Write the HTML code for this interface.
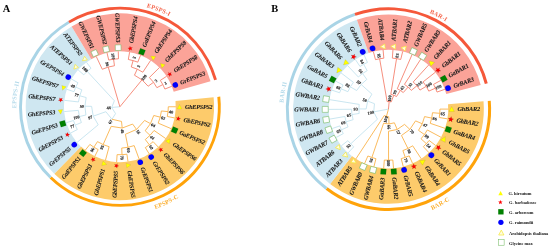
<!DOCTYPE html>
<html lang="en"><head><meta charset="utf-8"><title>Phylogenetic trees of EPSPS and BAR</title>
<style>html,body{margin:0;padding:0;background:#fff}body{width:550px;height:249px;overflow:hidden}svg{display:block;filter:blur(0.3px)}</style></head><body>
<svg width="550" height="249" viewBox="0 0 550 249">
<rect width="550" height="249" fill="#FFFFFF"/>
<g font-family="'Liberation Serif', serif" font-weight="bold" font-size="10.4" fill="#000">
<text x="2.8" y="12">A</text><text x="271.2" y="12">B</text></g>
<g transform="translate(119.9 106.75) scale(1 0.9915)">
<path d="M55.61 -5.68L93.71 -9.57A94.2 94.2 0 0 1 -65.63 67.57L-38.95 40.1A55.9 55.9 0 0 0 55.61 -5.68Z" fill="#FDCB6B"/>
<path d="M98.89 -10.1A99.4 99.4 0 0 1 -69.26 71.3" fill="none" stroke="#FFA30A" stroke-width="2.9"/>
<path d="M-38.95 40.1L-65.63 67.57A94.2 94.2 0 0 1 -48.28 -80.89L-28.65 -48A55.9 55.9 0 0 0 -38.95 40.1Z" fill="#CFE7F1"/>
<path d="M-69.26 71.3A99.4 99.4 0 0 1 -50.95 -85.35" fill="none" stroke="#A9D4E6" stroke-width="2.9"/>
<path d="M-28.65 -48L-48.28 -80.89A94.2 94.2 0 0 1 90.63 -25.7L53.78 -15.25A55.9 55.9 0 0 0 -28.65 -48Z" fill="#FBA398"/>
<path d="M-50.95 -85.35A99.4 99.4 0 0 1 95.63 -27.12" fill="none" stroke="#F5583A" stroke-width="2.9"/>
<path d="M-8.17 0.74L-0 0L0 0M-7.93 12.62L-4.36 6.94L-8.17 0.74M-26.66 9.49L-14.04 4.99L-7.93 12.62M-42.82 35.93L-21.68 18.19L-26.66 9.49M-35 -0.51L-28.3 -0.41L-26.66 9.49M-40.5 9.91L-34 8.32L-35 -0.51M-44.72 18.52L-38.53 15.96L-40.5 9.91M-49.2 26.53L-42.6 22.97L-44.72 18.52M-53.55 16.03L-46.37 13.88L-44.72 18.52M-55.69 4.87L-41.54 3.63L-40.5 9.91M-40.2 -11.09L-33.74 -9.3L-35 -0.51M-55.52 -6.49L-41.42 -4.84L-40.2 -11.09M-44.16 -19.81L-38.05 -17.07L-40.2 -11.09M-53.06 -17.58L-45.94 -15.22L-44.16 -19.81M-48.41 -27.95L-41.92 -24.2L-44.16 -19.81M-32.7 -35.68L-5.54 -6.05L-8.17 0.74M-41.76 -37.16L-36.16 -32.18L-32.7 -35.68M-33.38 -44.84L-28.9 -38.82L-32.7 -35.68" fill="none" stroke="#C0E1ED" stroke-width="0.85" stroke-linejoin="miter"/>
<path d="M2.31 21.48L1.6 14.81L-7.93 12.62M16.65 22.88L12.71 17.47L2.31 21.48M30.56 17.06L24.71 13.79L16.65 22.88M40.36 10.5L33.87 8.81L30.56 17.06M48.15 4.92L41.48 4.24L40.36 10.5M55.9 0L48.4 0L48.15 4.92M54.75 11.3L47.4 9.79L48.15 4.92M51.33 22.14L38.29 16.52L40.36 10.5M30.12 28.84L25.28 24.2L30.56 17.06M45.79 32.06L34.16 23.92L30.12 28.84M29.46 38.4L25.39 33.08L30.12 28.84M38.36 40.66L33.21 35.2L29.46 38.4M29.35 47.58L25.41 41.19L29.46 38.4M8.14 40.9L5.52 27.76L16.65 22.88M19.12 52.53L14.26 39.19L8.14 40.9M2.11 48.35L1.82 41.66L8.14 40.9M8.1 55.31L7.01 47.89L2.11 48.35M-3.25 55.81L-2.81 48.32L2.11 48.35M-16.79 38.17L-8.7 19.77L2.31 21.48M-14.47 54L-10.79 40.28L-16.79 38.17M-26.01 40.82L-22.41 35.17L-16.79 38.17M-25.09 49.95L-21.72 43.25L-26.01 40.82M-34.67 43.85L-30.02 37.97L-26.01 40.82" fill="none" stroke="#F9AE40" stroke-width="0.85" stroke-linejoin="miter"/>
<path d="M-11.67 -40.03L-0 -0L0 0M-23.62 -50.66L-17.62 -37.79L-11.67 -40.03M-6.32 -47.99L-5.44 -41.34L-11.67 -40.03M-12.89 -54.39L-11.16 -47.1L-6.32 -47.99M-1.63 -55.88L-1.41 -48.38L-6.32 -47.99M22.11 -27.14L0 -0L0 0M17.35 -37.92L14.56 -31.83L22.11 -27.14M13.21 -46.56L11.38 -40.12L17.35 -37.92M9.71 -55.05L8.4 -47.66L13.21 -46.56M20.64 -51.95L17.87 -44.98L13.21 -46.56M30.72 -46.7L22.91 -34.84L17.35 -37.92M33.63 -24.66L28.23 -20.7L22.11 -27.14M39.53 -39.53L29.49 -29.49L33.63 -24.66M42.93 -22.35L36.99 -19.25L33.63 -24.66M46.7 -30.72L40.44 -26.6L42.93 -22.35M51.95 -20.64L44.98 -17.87L42.93 -22.35" fill="none" stroke="#F47A66" stroke-width="0.85" stroke-linejoin="miter"/>
<g font-family="'Liberation Serif', serif" font-weight="bold" font-size="4.3" fill="#222" stroke="#222" stroke-width="0.12" text-anchor="middle">
<text transform="translate(-11.25 1.02) rotate(354.82)" y="1.6">44</text>
<text transform="translate(-9.57 15.24) rotate(302.14)" y="1.6">67</text>
<text transform="translate(2.64 24.56) rotate(83.85)" y="1.6">46</text>
<text transform="translate(18.47 25.39) rotate(53.96)" y="1.6">56</text>
<text transform="translate(33.27 18.57) rotate(29.17)" y="1.6">64</text>
<text transform="translate(43.36 11.28) rotate(14.58)" y="1.6">62</text>
<text transform="translate(51.23 5.23) rotate(5.83)" y="1.6">40</text>
<text transform="translate(32.36 30.98) rotate(43.75)" y="1.6">44</text>
<text transform="translate(31.35 40.86) rotate(52.5)" y="1.6">60</text>
<text transform="translate(8.74 43.94) rotate(78.75)" y="1.6">60</text>
<text transform="translate(2.25 51.45) rotate(87.5)" y="1.6">78</text>
<text transform="translate(-18.04 41.01) rotate(293.75)" y="1.6">95</text>
<text transform="translate(-27.67 43.43) rotate(302.5)" y="1.6">96</text>
<text transform="translate(-29.58 10.52) rotate(340.42)" y="1.6">97</text>
<text transform="translate(-38.1 -0.55) rotate(0.83)" y="1.6">50</text>
<text transform="translate(-43.52 10.65) rotate(346.25)" y="1.6">100</text>
<text transform="translate(-47.58 19.71) rotate(337.5)" y="1.6">77</text>
<text transform="translate(-43.19 -11.91) rotate(15.42)" y="1.6">77</text>
<text transform="translate(-46.99 -21.08) rotate(24.17)" y="1.6">49</text>
<text transform="translate(-34.79 -37.97) rotate(47.5)" y="1.6">100</text>
<text transform="translate(-12.54 -43.01) rotate(73.75)" y="1.6">96</text>
<text transform="translate(-6.72 -51.06) rotate(82.5)" y="1.6">100</text>
<text transform="translate(24.06 -29.54) rotate(309.17)" y="1.6">100</text>
<text transform="translate(18.64 -40.74) rotate(294.58)" y="1.6">3</text>
<text transform="translate(14.05 -49.55) rotate(285.83)" y="1.6">2</text>
<text transform="translate(36.13 -26.49) rotate(323.75)" y="1.6">3</text>
<text transform="translate(45.68 -23.78) rotate(332.5)" y="1.6">3</text>
</g>
<g font-family="'Liberation Serif', serif" font-weight="bold" font-style="italic" font-size="6.1" letter-spacing="-0.21" fill="#1a1a1a" stroke="#1a1a1a" stroke-width="0.08">
<path transform="translate(59.6 0) rotate(0) scale(0.9)" d="M0 -2.6L2.6 2.4L-2.6 2.4Z" fill="#FFFF00"/>
<text transform="rotate(0)" x="65.1" y="1.89">GhEPSPS2</text>
<polygon transform="translate(58.37 12.05) rotate(11.67) scale(0.9)" points="0,-2.8 0.71,-0.97 2.66,-0.87 1.14,0.37 1.65,2.27 0,1.2 -1.65,2.27 -1.14,0.37 -2.66,-0.87 -0.71,-0.97" fill="#FF0000"/>
<text transform="rotate(11.67)" x="65.1" y="1.89">GbEPSPS2</text>
<rect transform="translate(54.73 23.61) rotate(23.33) scale(0.9)" x="-3.1" y="-3.1" width="6.2" height="6.2" fill="#008000"/>
<text transform="rotate(23.33)" x="65.1" y="1.89">GaEPSPS2</text>
<path transform="translate(48.82 34.19) rotate(35) scale(0.9)" d="M0 -2.6L2.6 2.4L-2.6 2.4Z" fill="#FFFF00"/>
<text transform="rotate(35)" x="65.1" y="1.89">GhEPSPS6</text>
<polygon transform="translate(40.9 43.35) rotate(46.67) scale(0.9)" points="0,-2.8 0.71,-0.97 2.66,-0.87 1.14,0.37 1.65,2.27 0,1.2 -1.65,2.27 -1.14,0.37 -2.66,-0.87 -0.71,-0.97" fill="#FF0000"/>
<text transform="rotate(46.67)" x="65.1" y="1.89">GbEPSPS6</text>
<circle transform="translate(31.29 50.73) rotate(58.33) scale(0.9)" r="3.05" fill="#0000FF"/>
<text transform="rotate(58.33)" x="65.1" y="1.89">GrEPSPS2</text>
<circle transform="translate(20.38 56.01) rotate(70) scale(0.9)" r="3.05" fill="#0000FF"/>
<text transform="rotate(70)" x="65.1" y="1.89">GrEPSPS1</text>
<path transform="translate(8.64 58.97) rotate(81.67) scale(0.9)" d="M0 -2.6L2.6 2.4L-2.6 2.4Z" fill="#FFFF00"/>
<text transform="rotate(81.67)" x="65.1" y="1.89">GhEPSPS5</text>
<polygon transform="translate(-3.47 59.5) rotate(93.33) scale(0.9)" points="0,-2.8 0.71,-0.97 2.66,-0.87 1.14,0.37 1.65,2.27 0,1.2 -1.65,2.27 -1.14,0.37 -2.66,-0.87 -0.71,-0.97" fill="#FF0000"/>
<text transform="rotate(273.33)" x="-65.1" y="1.89" text-anchor="end">GbEPSPS5</text>
<path transform="translate(-15.43 57.57) rotate(105) scale(0.9)" d="M0 -2.6L2.6 2.4L-2.6 2.4Z" fill="#FFFF00"/>
<text transform="rotate(285)" x="-65.1" y="1.89" text-anchor="end">GhEPSPS1</text>
<polygon transform="translate(-26.75 53.26) rotate(116.67) scale(0.9)" points="0,-2.8 0.71,-0.97 2.66,-0.87 1.14,0.37 1.65,2.27 0,1.2 -1.65,2.27 -1.14,0.37 -2.66,-0.87 -0.71,-0.97" fill="#FF0000"/>
<text transform="rotate(296.67)" x="-65.1" y="1.89" text-anchor="end">GbEPSPS1</text>
<rect transform="translate(-36.97 46.75) rotate(128.33) scale(0.9)" x="-3.1" y="-3.1" width="6.2" height="6.2" fill="#008000"/>
<text transform="rotate(308.33)" x="-65.1" y="1.89" text-anchor="end">GaEPSPS1</text>
<circle transform="translate(-45.66 38.31) rotate(140) scale(0.9)" r="3.05" fill="#0000FF"/>
<text transform="rotate(320)" x="-65.1" y="1.89" text-anchor="end">GrEPSPS5</text>
<polygon transform="translate(-52.46 28.29) rotate(151.67) scale(0.9)" points="0,-2.8 0.71,-0.97 2.66,-0.87 1.14,0.37 1.65,2.27 0,1.2 -1.65,2.27 -1.14,0.37 -2.66,-0.87 -0.71,-0.97" fill="#FF0000"/>
<text transform="rotate(331.67)" x="-65.1" y="1.89" text-anchor="end">GbEPSPS3</text>
<rect transform="translate(-57.1 17.09) rotate(163.33) scale(0.9)" x="-3.1" y="-3.1" width="6.2" height="6.2" fill="#008000"/>
<text transform="rotate(343.33)" x="-65.1" y="1.89" text-anchor="end">GaEPSPS3</text>
<path transform="translate(-59.37 5.19) rotate(175) scale(0.9)" d="M0 -2.6L2.6 2.4L-2.6 2.4Z" fill="#FFFF00"/>
<text transform="rotate(355)" x="-65.1" y="1.89" text-anchor="end">GhEPSPS3</text>
<polygon transform="translate(-59.2 -6.92) rotate(186.67) scale(0.9)" points="0,-2.8 0.71,-0.97 2.66,-0.87 1.14,0.37 1.65,2.27 0,1.2 -1.65,2.27 -1.14,0.37 -2.66,-0.87 -0.71,-0.97" fill="#FF0000"/>
<text transform="rotate(6.67)" x="-65.1" y="1.89" text-anchor="end">GbEPSPS7</text>
<path transform="translate(-56.57 -18.75) rotate(198.33) scale(0.9)" d="M0 -2.6L2.6 2.4L-2.6 2.4Z" fill="#FFFF00"/>
<text transform="rotate(18.33)" x="-65.1" y="1.89" text-anchor="end">GhEPSPS7</text>
<circle transform="translate(-51.62 -29.8) rotate(210) scale(0.9)" r="3.05" fill="#0000FF"/>
<text transform="rotate(30)" x="-65.1" y="1.89" text-anchor="end">GrEPSPS4</text>
<path transform="translate(-44.52 -39.62) rotate(221.67) scale(0.92)" d="M0 -2.5L2.5 2.2L-2.5 2.2Z" fill="#FFFCE0" stroke="#F6E83C" stroke-width="0.7" stroke-linejoin="miter"/>
<text transform="rotate(41.67)" x="-65.1" y="1.89" text-anchor="end">ATEPSPS1</text>
<path transform="translate(-35.59 -47.81) rotate(233.33) scale(0.92)" d="M0 -2.5L2.5 2.2L-2.5 2.2Z" fill="#FFFCE0" stroke="#F6E83C" stroke-width="0.7" stroke-linejoin="miter"/>
<text transform="rotate(53.33)" x="-65.1" y="1.89" text-anchor="end">ATEPSPS2</text>
<rect transform="translate(-25.19 -54.02) rotate(245) scale(0.9)" x="-3.15" y="-3.15" width="6.3" height="6.3" fill="#FFFFFF" stroke="#74BA62" stroke-width="0.6"/>
<text transform="rotate(65)" x="-65.1" y="1.89" text-anchor="end">GWEPSPS1</text>
<rect transform="translate(-13.74 -57.99) rotate(256.67) scale(0.9)" x="-3.15" y="-3.15" width="6.3" height="6.3" fill="#FFFFFF" stroke="#74BA62" stroke-width="0.6"/>
<text transform="rotate(76.67)" x="-65.1" y="1.89" text-anchor="end">GWEPSPS2</text>
<rect transform="translate(-1.73 -59.57) rotate(268.33) scale(0.9)" x="-3.15" y="-3.15" width="6.3" height="6.3" fill="#FFFFFF" stroke="#74BA62" stroke-width="0.6"/>
<text transform="rotate(88.33)" x="-65.1" y="1.89" text-anchor="end">GWEPSPS3</text>
<polygon transform="translate(10.35 -58.69) rotate(280) scale(0.9)" points="0,-2.8 0.71,-0.97 2.66,-0.87 1.14,0.37 1.65,2.27 0,1.2 -1.65,2.27 -1.14,0.37 -2.66,-0.87 -0.71,-0.97" fill="#FF0000"/>
<text transform="rotate(280)" x="65.1" y="1.89">GbEPSPS4</text>
<rect transform="translate(22 -55.39) rotate(291.67) scale(0.9)" x="-3.1" y="-3.1" width="6.2" height="6.2" fill="#008000"/>
<text transform="rotate(291.67)" x="65.1" y="1.89">GaEPSPS4</text>
<path transform="translate(32.75 -49.8) rotate(303.33) scale(0.9)" d="M0 -2.6L2.6 2.4L-2.6 2.4Z" fill="#FFFF00"/>
<text transform="rotate(303.33)" x="65.1" y="1.89">GhEPSPS4</text>
<path transform="translate(42.14 -42.14) rotate(315) scale(0.9)" d="M0 -2.6L2.6 2.4L-2.6 2.4Z" fill="#FFFF00"/>
<text transform="rotate(315)" x="65.1" y="1.89">GhEPSPS8</text>
<polygon transform="translate(49.8 -32.75) rotate(326.67) scale(0.9)" points="0,-2.8 0.71,-0.97 2.66,-0.87 1.14,0.37 1.65,2.27 0,1.2 -1.65,2.27 -1.14,0.37 -2.66,-0.87 -0.71,-0.97" fill="#FF0000"/>
<text transform="rotate(326.67)" x="65.1" y="1.89">GbEPSPS8</text>
<circle transform="translate(55.39 -22) rotate(338.33) scale(0.9)" r="3.05" fill="#0000FF"/>
<text transform="rotate(338.33)" x="65.1" y="1.89">GrEPSPS3</text>
</g>
<g font-family="'Liberation Serif', serif" font-weight="bold" font-size="6.2" letter-spacing="0.2" text-anchor="middle">
<path id="p119_64" d="M-26.69 105.73A109.05 109.05 0 0 0 99.49 44.64" fill="none"/>
<text fill="#FBAE2E"><textPath href="#p119_64" startOffset="50%">EPSPS-C</textPath></text>
<path id="p119_186" d="M-86.69 57.01A103.75 103.75 0 0 1 -71.2 -75.47" fill="none"/>
<text fill="#B4DAEA"><textPath href="#p119_186" startOffset="50%">EPSPS-II</textPath></text>
<path id="p119_291" d="M-32.64 -98.49A103.75 103.75 0 0 1 91.32 -49.24" fill="none"/>
<text fill="#F5644A"><textPath href="#p119_291" startOffset="50%">EPSPS-I</textPath></text>
</g>
</g>
<g transform="translate(388.45 109.1) scale(1 0.9926)">
<path d="M59.6 -4.93L95.08 -7.87A95.4 95.4 0 0 1 -58.34 75.48L-36.57 47.31A59.8 59.8 0 0 0 59.6 -4.93Z" fill="#FDCB6B"/>
<path d="M100.81 -8.34A101.15 101.15 0 0 1 -61.86 80.03" fill="none" stroke="#FFA30A" stroke-width="3"/>
<path d="M-36.57 47.31L-58.34 75.48A95.4 95.4 0 0 1 -31.57 -90.03L-19.79 -56.43A59.8 59.8 0 0 0 -36.57 47.31Z" fill="#CFE7F1"/>
<path d="M-61.86 80.03A101.15 101.15 0 0 1 -33.47 -95.45" fill="none" stroke="#A9D4E6" stroke-width="3"/>
<path d="M-19.79 -56.43L-31.57 -90.03A95.4 95.4 0 0 1 92.26 -24.26L57.83 -15.2A59.8 59.8 0 0 0 -19.79 -56.43Z" fill="#FBA398"/>
<path d="M-33.47 -95.45A101.15 101.15 0 0 1 97.83 -25.72" fill="none" stroke="#F5583A" stroke-width="3"/>
<path d="M-2.04 7.42L-0 0L0 0M0.58 14.99L0.3 7.69L-2.04 7.42M8.78 20.5L5.91 13.79L0.58 14.99M21.38 20.47L16.11 15.42L8.78 20.5M33.8 14.8L27.11 11.87L21.38 20.47M43.26 9.06L36.12 7.56L33.8 14.8M51.32 4.25L44.05 3.64L43.26 9.06M59.8 0L51.5 0L51.32 4.25M58.99 9.83L50.8 8.46L51.32 4.25M56.57 19.39L41.81 14.33L43.26 9.06M36 25.65L30.05 21.41L33.8 14.8M52.61 28.42L38.89 21.01L36 25.65M37.93 34.84L32.55 29.9L36 25.65M47.23 36.68L40.67 31.59L37.93 34.84M40.56 43.95L34.93 37.85L37.93 34.84M19.48 39.68L13.04 26.57L21.38 20.47M32.78 50.01L24.23 36.97L19.48 39.68M16.81 48.68L14.43 41.78L19.48 39.68M24.12 54.72L20.77 47.13L16.81 48.68M14.8 57.94L12.74 49.9L16.81 48.68M0.12 51.5L0.05 22.3L8.78 20.5M5.07 59.58L4.37 51.31L0.12 51.5M-4.79 59.61L-4.13 51.33L0.12 51.5M-16.58 48.76L-4.83 14.2L0.58 14.99M-14.52 58.01L-12.51 49.96L-16.58 48.76M-23.86 54.83L-20.55 47.22L-16.58 48.76M-32.55 50.17L-4.19 6.46L-2.04 7.42" fill="none" stroke="#F9AE40" stroke-width="0.85" stroke-linejoin="miter"/>
<path d="M-14.74 2.8L-0 0L0 0M-37.76 35.02L-11 10.2L-14.74 2.8M-40.35 44.14L-34.75 38.01L-37.76 35.02M-47.05 36.91L-40.52 31.78L-37.76 35.02M-20.78 -8.1L-13.97 -5.45L-14.74 2.8M-29.6 -0.17L-22.3 -0.12L-20.78 -8.1M-36.49 5.48L-29.27 4.4L-29.6 -0.17M-42.31 12.79L-35.32 10.68L-36.49 5.48M-47.08 20.88L-40.4 17.92L-42.31 12.79M-52.48 28.67L-45.2 24.69L-47.08 20.88M-56.48 19.66L-48.64 16.93L-47.08 20.88M-58.94 10.11L-43.56 7.47L-42.31 12.79M-59.8 0.28L-36.9 0.17L-36.49 5.48M-59.03 -9.55L-29.22 -4.73L-29.6 -0.17M-27.29 -24.83L-16.49 -15.01L-20.78 -8.1M-38.09 -22.42L-31.8 -18.71L-27.29 -24.83M-47.27 -20.44L-40.57 -17.54L-38.09 -22.42M-56.66 -19.12L-48.8 -16.47L-47.27 -20.44M-52.75 -28.17L-45.43 -24.26L-47.27 -20.44M-47.4 -36.46L-35.03 -26.95L-38.09 -22.42M-25.9 -35.81L-21.63 -29.9L-27.29 -24.83M-40.76 -43.75L-30.13 -32.34L-25.9 -35.81M-24.8 -45.14L-21.28 -38.74L-25.9 -35.81M-33.02 -49.86L-28.43 -42.94L-24.8 -45.14M-24.37 -54.61L-20.99 -47.03L-24.8 -45.14" fill="none" stroke="#C0E1ED" stroke-width="0.85" stroke-linejoin="miter"/>
<path d="M0.73 -7.67L0 -0L0 0M-8.82 -50.74L-1.32 -7.59L0.73 -7.67M-15.07 -57.87L-12.98 -49.84L-8.82 -50.74M-5.35 -59.56L-4.61 -51.29L-8.82 -50.74M5.31 -14.03L2.73 -7.2L0.73 -7.67M8.1 -50.86L2.36 -14.81L5.31 -14.03M4.51 -59.63L3.88 -51.35L8.1 -50.86M14.25 -58.08L12.27 -50.02L8.1 -50.86M11.95 -18.83L8.04 -12.66L5.31 -14.03M23.6 -54.95L8.8 -20.49L11.95 -18.83M19.64 -22.14L14.8 -16.68L11.95 -18.83M32.31 -50.32L15.99 -24.91L19.64 -22.14M28.45 -23.5L22.82 -18.85L19.64 -22.14M40.14 -44.33L24.77 -27.35L28.45 -23.5M37.77 -22.95L31.53 -19.16L28.45 -23.5M46.88 -37.13L34.65 -27.44L37.77 -22.95M46.98 -21.1L40.32 -18.11L37.77 -22.95M52.34 -28.92L45.08 -24.9L46.98 -21.1M56.38 -19.92L48.56 -17.16L46.98 -21.1" fill="none" stroke="#F47A66" stroke-width="0.85" stroke-linejoin="miter"/>
<g font-family="'Liberation Serif', serif" font-weight="bold" font-size="4.3" fill="#222" stroke="#222" stroke-width="0.12" text-anchor="middle">
<text transform="translate(-2.87 10.41) rotate(285.38)" y="1.6">100</text>
<text transform="translate(0.7 18.09) rotate(87.8)" y="1.6">66</text>
<text transform="translate(10 23.35) rotate(66.81)" y="1.6">57</text>
<text transform="translate(23.62 22.61) rotate(43.75)" y="1.6">70</text>
<text transform="translate(36.64 16.05) rotate(23.65)" y="1.6">47</text>
<text transform="translate(46.3 9.69) rotate(11.82)" y="1.6">86</text>
<text transform="translate(54.41 4.5) rotate(4.73)" y="1.6">65</text>
<text transform="translate(38.52 27.45) rotate(35.47)" y="1.6">99</text>
<text transform="translate(40.21 36.93) rotate(42.57)" y="1.6">54</text>
<text transform="translate(20.85 42.46) rotate(63.85)" y="1.6">98</text>
<text transform="translate(17.82 51.61) rotate(70.95)" y="1.6">79</text>
<text transform="translate(0.13 54.6) rotate(89.86)" y="1.6">100</text>
<text transform="translate(-17.58 51.69) rotate(288.78)" y="1.6">96</text>
<text transform="translate(-17.78 3.38) rotate(349.24)" y="1.6">100</text>
<text transform="translate(-40.04 37.12) rotate(317.16)" y="1.6">92</text>
<text transform="translate(-23.66 -9.23) rotate(21.31)" y="1.6">58</text>
<text transform="translate(-32.7 -0.18) rotate(0.32)" y="1.6">93</text>
<text transform="translate(-39.56 5.95) rotate(351.45)" y="1.6">65</text>
<text transform="translate(-45.28 13.69) rotate(343.18)" y="1.6">69</text>
<text transform="translate(-49.91 22.14) rotate(336.08)" y="1.6">69</text>
<text transform="translate(-29.59 -26.92) rotate(42.3)" y="1.6">97</text>
<text transform="translate(-40.77 -23.99) rotate(30.47)" y="1.6">88</text>
<text transform="translate(-50.12 -21.67) rotate(23.38)" y="1.6">88</text>
<text transform="translate(-27.72 -38.33) rotate(54.12)" y="1.6">64</text>
<text transform="translate(-26.29 -47.85) rotate(61.22)" y="1.6">84</text>
<text transform="translate(1.02 -10.75) rotate(275.43)" y="1.6">100</text>
<text transform="translate(-9.35 -53.79) rotate(80.14)" y="1.6">85</text>
<text transform="translate(6.41 -16.93) rotate(290.73)" y="1.6">99</text>
<text transform="translate(8.59 -53.92) rotate(279.05)" y="1.6">83</text>
<text transform="translate(13.61 -21.44) rotate(302.41)" y="1.6">43</text>
<text transform="translate(21.7 -24.46) rotate(311.57)" y="1.6">33</text>
<text transform="translate(30.84 -25.48) rotate(320.44)" y="1.6">100</text>
<text transform="translate(40.42 -24.56) rotate(328.72)" y="1.6">100</text>
<text transform="translate(49.81 -22.37) rotate(335.81)" y="1.6">100</text>
</g>
<g font-family="'Liberation Serif', serif" font-weight="bold" font-style="italic" font-size="6.3" letter-spacing="-0.22" fill="#1a1a1a" stroke="#1a1a1a" stroke-width="0.08">
<path transform="translate(63.2 0) rotate(0) scale(1.04)" d="M0 -2.6L2.6 2.4L-2.6 2.4Z" fill="#FFFF00"/>
<text transform="rotate(0)" x="69" y="1.95">GhBAR2</text>
<polygon transform="translate(62.34 10.39) rotate(9.46) scale(1.06)" points="0,-2.8 0.71,-0.97 2.66,-0.87 1.14,0.37 1.65,2.27 0,1.2 -1.65,2.27 -1.14,0.37 -2.66,-0.87 -0.71,-0.97" fill="#FF0000"/>
<text transform="rotate(9.46)" x="69" y="1.95">GbBAR2</text>
<rect transform="translate(59.79 20.49) rotate(18.92) scale(0.9)" x="-3.1" y="-3.1" width="6.2" height="6.2" fill="#008000"/>
<text transform="rotate(18.92)" x="69" y="1.95">GaBAR4</text>
<path transform="translate(55.61 30.04) rotate(28.38) scale(1.04)" d="M0 -2.6L2.6 2.4L-2.6 2.4Z" fill="#FFFF00"/>
<text transform="rotate(28.38)" x="69" y="1.95">GhBAR5</text>
<polygon transform="translate(49.91 38.77) rotate(37.84) scale(1.06)" points="0,-2.8 0.71,-0.97 2.66,-0.87 1.14,0.37 1.65,2.27 0,1.2 -1.65,2.27 -1.14,0.37 -2.66,-0.87 -0.71,-0.97" fill="#FF0000"/>
<text transform="rotate(37.84)" x="69" y="1.95">GbBAR5</text>
<circle transform="translate(42.86 46.44) rotate(47.3) scale(0.93)" r="3.05" fill="#0000FF"/>
<text transform="rotate(47.3)" x="69" y="1.95">GrBAR1</text>
<path transform="translate(34.65 52.86) rotate(56.76) scale(1.04)" d="M0 -2.6L2.6 2.4L-2.6 2.4Z" fill="#FFFF00"/>
<text transform="rotate(56.76)" x="69" y="1.95">GhBAR4</text>
<polygon transform="translate(25.49 57.83) rotate(66.22) scale(1.06)" points="0,-2.8 0.71,-0.97 2.66,-0.87 1.14,0.37 1.65,2.27 0,1.2 -1.65,2.27 -1.14,0.37 -2.66,-0.87 -0.71,-0.97" fill="#FF0000"/>
<text transform="rotate(66.22)" x="69" y="1.95">GbBAR4</text>
<circle transform="translate(15.64 61.24) rotate(75.68) scale(0.93)" r="3.05" fill="#0000FF"/>
<text transform="rotate(75.68)" x="69" y="1.95">GrBAR5</text>
<rect transform="translate(5.36 62.97) rotate(85.14) scale(0.9)" x="-3.1" y="-3.1" width="6.2" height="6.2" fill="#008000"/>
<text transform="rotate(85.14)" x="69" y="1.95">GaBAR2</text>
<rect transform="translate(-5.06 63) rotate(94.59) scale(0.9)" x="-3.1" y="-3.1" width="6.2" height="6.2" fill="#008000"/>
<text transform="rotate(274.59)" x="-69.6" y="1.95" text-anchor="end">GaBAR3</text>
<rect transform="translate(-15.35 61.31) rotate(104.05) scale(0.95)" x="-3.15" y="-3.15" width="6.3" height="6.3" fill="#FFFFFF" stroke="#74BA62" stroke-width="0.6"/>
<text transform="rotate(284.05)" x="-69.6" y="1.95" text-anchor="end">GWBAR4</text>
<rect transform="translate(-25.21 57.95) rotate(113.51) scale(0.95)" x="-3.15" y="-3.15" width="6.3" height="6.3" fill="#FFFFFF" stroke="#74BA62" stroke-width="0.6"/>
<text transform="rotate(293.51)" x="-69.6" y="1.95" text-anchor="end">GWBAR9</text>
<path transform="translate(-34.4 53.02) rotate(122.97)" d="M0 -2.5L2.5 2.2L-2.5 2.2Z" fill="#FFFCE0" stroke="#F6E83C" stroke-width="0.7" stroke-linejoin="miter"/>
<text transform="rotate(302.97)" x="-69.6" y="1.95" text-anchor="end">ATBAR5</text>
<path transform="translate(-42.64 46.65) rotate(132.43)" d="M0 -2.5L2.5 2.2L-2.5 2.2Z" fill="#FFFCE0" stroke="#F6E83C" stroke-width="0.7" stroke-linejoin="miter"/>
<text transform="rotate(312.43)" x="-69.6" y="1.95" text-anchor="end">ATBAR3</text>
<path transform="translate(-49.73 39) rotate(141.89)" d="M0 -2.5L2.5 2.2L-2.5 2.2Z" fill="#FFFCE0" stroke="#F6E83C" stroke-width="0.7" stroke-linejoin="miter"/>
<text transform="rotate(321.89)" x="-69.6" y="1.95" text-anchor="end">ATBAR6</text>
<rect transform="translate(-55.46 30.3) rotate(151.35) scale(0.95)" x="-3.15" y="-3.15" width="6.3" height="6.3" fill="#FFFFFF" stroke="#74BA62" stroke-width="0.6"/>
<text transform="rotate(331.35)" x="-69.6" y="1.95" text-anchor="end">GWBAR7</text>
<rect transform="translate(-59.69 20.77) rotate(160.81) scale(0.95)" x="-3.15" y="-3.15" width="6.3" height="6.3" fill="#FFFFFF" stroke="#74BA62" stroke-width="0.6"/>
<text transform="rotate(340.81)" x="-69.6" y="1.95" text-anchor="end">GWBAR8</text>
<rect transform="translate(-62.29 10.68) rotate(170.27) scale(0.95)" x="-3.15" y="-3.15" width="6.3" height="6.3" fill="#FFFFFF" stroke="#74BA62" stroke-width="0.6"/>
<text transform="rotate(350.27)" x="-69.6" y="1.95" text-anchor="end">GWBAR6</text>
<rect transform="translate(-63.2 0.3) rotate(179.73) scale(0.95)" x="-3.15" y="-3.15" width="6.3" height="6.3" fill="#FFFFFF" stroke="#74BA62" stroke-width="0.6"/>
<text transform="rotate(359.73)" x="-69.6" y="1.95" text-anchor="end">GWBAR1</text>
<rect transform="translate(-62.39 -10.09) rotate(189.19) scale(0.95)" x="-3.15" y="-3.15" width="6.3" height="6.3" fill="#FFFFFF" stroke="#74BA62" stroke-width="0.6"/>
<text transform="rotate(9.19)" x="-69.6" y="1.95" text-anchor="end">GWBAR2</text>
<polygon transform="translate(-59.88 -20.21) rotate(198.65) scale(1.06)" points="0,-2.8 0.71,-0.97 2.66,-0.87 1.14,0.37 1.65,2.27 0,1.2 -1.65,2.27 -1.14,0.37 -2.66,-0.87 -0.71,-0.97" fill="#FF0000"/>
<text transform="rotate(18.65)" x="-69.6" y="1.95" text-anchor="end">GbBAR3</text>
<rect transform="translate(-55.75 -29.78) rotate(208.11) scale(0.9)" x="-3.1" y="-3.1" width="6.2" height="6.2" fill="#008000"/>
<text transform="rotate(28.11)" x="-69.6" y="1.95" text-anchor="end">GaBAR5</text>
<path transform="translate(-50.09 -38.53) rotate(217.57) scale(1.04)" d="M0 -2.6L2.6 2.4L-2.6 2.4Z" fill="#FFFF00"/>
<text transform="rotate(37.57)" x="-69.6" y="1.95" text-anchor="end">GhBAR3</text>
<path transform="translate(-43.08 -46.24) rotate(227.03) scale(1.04)" d="M0 -2.6L2.6 2.4L-2.6 2.4Z" fill="#FFFF00"/>
<text transform="rotate(47.03)" x="-69.6" y="1.95" text-anchor="end">GhBAR6</text>
<polygon transform="translate(-34.89 -52.69) rotate(236.49) scale(1.06)" points="0,-2.8 0.71,-0.97 2.66,-0.87 1.14,0.37 1.65,2.27 0,1.2 -1.65,2.27 -1.14,0.37 -2.66,-0.87 -0.71,-0.97" fill="#FF0000"/>
<text transform="rotate(56.49)" x="-69.6" y="1.95" text-anchor="end">GbBAR6</text>
<circle transform="translate(-25.76 -57.71) rotate(245.95) scale(0.93)" r="3.05" fill="#0000FF"/>
<text transform="rotate(65.95)" x="-69.6" y="1.95" text-anchor="end">GrBAR2</text>
<circle transform="translate(-15.93 -61.16) rotate(255.41) scale(0.93)" r="3.05" fill="#0000FF"/>
<text transform="rotate(75.41)" x="-69.6" y="1.95" text-anchor="end">GrBAR4</text>
<path transform="translate(-5.66 -62.95) rotate(264.86)" d="M0 -2.5L2.5 2.2L-2.5 2.2Z" fill="#FFFCE0" stroke="#F6E83C" stroke-width="0.7" stroke-linejoin="miter"/>
<text transform="rotate(84.86)" x="-69.6" y="1.95" text-anchor="end">ATBAR4</text>
<path transform="translate(4.77 -63.02) rotate(274.32)" d="M0 -2.5L2.5 2.2L-2.5 2.2Z" fill="#FFFCE0" stroke="#F6E83C" stroke-width="0.7" stroke-linejoin="miter"/>
<text transform="rotate(274.32)" x="69" y="1.95">ATBAR1</text>
<path transform="translate(15.06 -61.38) rotate(283.78)" d="M0 -2.5L2.5 2.2L-2.5 2.2Z" fill="#FFFCE0" stroke="#F6E83C" stroke-width="0.7" stroke-linejoin="miter"/>
<text transform="rotate(283.78)" x="69" y="1.95">ATBAR2</text>
<rect transform="translate(24.94 -58.07) rotate(293.24) scale(0.95)" x="-3.15" y="-3.15" width="6.3" height="6.3" fill="#FFFFFF" stroke="#74BA62" stroke-width="0.6"/>
<text transform="rotate(293.24)" x="69" y="1.95">GWBAR5</text>
<rect transform="translate(34.15 -53.18) rotate(302.7) scale(0.95)" x="-3.15" y="-3.15" width="6.3" height="6.3" fill="#FFFFFF" stroke="#74BA62" stroke-width="0.6"/>
<text transform="rotate(302.7)" x="69" y="1.95">GWBAR3</text>
<path transform="translate(42.42 -46.85) rotate(312.16) scale(1.04)" d="M0 -2.6L2.6 2.4L-2.6 2.4Z" fill="#FFFF00"/>
<text transform="rotate(312.16)" x="69" y="1.95">GhBAR1</text>
<polygon transform="translate(49.54 -39.24) rotate(321.62) scale(1.06)" points="0,-2.8 0.71,-0.97 2.66,-0.87 1.14,0.37 1.65,2.27 0,1.2 -1.65,2.27 -1.14,0.37 -2.66,-0.87 -0.71,-0.97" fill="#FF0000"/>
<text transform="rotate(321.62)" x="69" y="1.95">GbBAR1</text>
<rect transform="translate(55.32 -30.56) rotate(331.08) scale(0.9)" x="-3.1" y="-3.1" width="6.2" height="6.2" fill="#008000"/>
<text transform="rotate(331.08)" x="69" y="1.95">GaBAR1</text>
<circle transform="translate(59.59 -21.05) rotate(340.54) scale(0.93)" r="3.05" fill="#0000FF"/>
<text transform="rotate(340.54)" x="69" y="1.95">GrBAR3</text>
</g>
<g font-family="'Liberation Serif', serif" font-weight="bold" font-size="6.2" letter-spacing="0.2" text-anchor="middle">
<path id="p388_61" d="M-21.99 108.23A110.45 110.45 0 0 0 102.77 40.45" fill="none"/>
<text fill="#FBAE2E"><textPath href="#p388_61" startOffset="50%">BAR-C</textPath></text>
<path id="p388_189" d="M-90.31 53.86A105.15 105.15 0 0 1 -68.72 -79.59" fill="none"/>
<text fill="#B4DAEA"><textPath href="#p388_189" startOffset="50%">BAR-II</textPath></text>
<path id="p388_297" d="M-21.91 -102.85A105.15 105.15 0 0 1 97.48 -39.44" fill="none"/>
<text fill="#F5644A"><textPath href="#p388_297" startOffset="50%">BAR-I</textPath></text>
</g>
</g>
<g font-family="'Liberation Serif', serif" font-weight="bold" font-size="4.4" fill="#111">
<path transform="translate(500.6 193.3) rotate(0) scale(0.86)" d="M0 -2.6L2.6 2.4L-2.6 2.4Z" fill="#FFFF00"/>
<text x="508.5" y="194.9">G. hirsutum</text>
<polygon transform="translate(500.4 202.3) rotate(0) scale(0.86)" points="0,-2.8 0.71,-0.97 2.66,-0.87 1.14,0.37 1.65,2.27 0,1.2 -1.65,2.27 -1.14,0.37 -2.66,-0.87 -0.71,-0.97" fill="#FF0000"/>
<text x="509.1" y="204.2">G. barbadense</text>
<rect transform="translate(500.9 211.8) rotate(0) scale(0.86)" x="-3.1" y="-3.1" width="6.2" height="6.2" fill="#008000"/>
<text x="509.1" y="213.8">G. arboreum</text>
<circle transform="translate(500.9 222.3) rotate(0) scale(0.87)" r="3.05" fill="#0000FF"/>
<text x="509.1" y="224.3">G. raimondii</text>
<path transform="translate(501.3 232.7) rotate(0) scale(1.05)" d="M0 -2.5L2.5 2.2L-2.5 2.2Z" fill="#FFFCE0" stroke="#F6E83C" stroke-width="0.7" stroke-linejoin="miter"/>
<text x="509.1" y="234.5">Arabidopsis thaliana</text>
<rect transform="translate(501.3 242.4) rotate(0) scale(0.9)" x="-3.15" y="-3.15" width="6.3" height="6.3" fill="#FFFFFF" stroke="#74BA62" stroke-width="0.6"/>
<text x="509.1" y="244.8">Glycine max</text>
</g>
</svg>
</body></html>
